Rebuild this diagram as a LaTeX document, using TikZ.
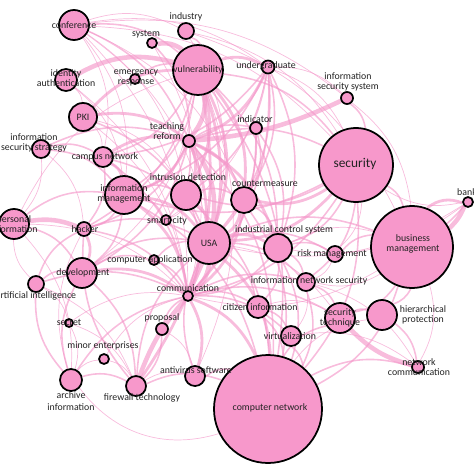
\documentclass[tikz,border=0pt]{standalone}
\usepackage{fontspec}
\setmainfont{Carlito}
\usepackage{xcolor}
\usetikzlibrary{backgrounds}
\definecolor{kwpink}{RGB}{247,152,203}
\definecolor{linkpink}{RGB}{244,152,202}
\definecolor{kwtext}{RGB}{35,35,35}
\tikzset{
	kw/.style={circle, draw=black, fill=kwpink, line width=1pt},
	kwlabel/.style={font=\fontsize{5.6}{5.9}\selectfont, text=kwtext, align=center},
	link/.style={draw=linkpink, opacity=0.65, bend left=22},
	thinlink/.style={link, line width=0.4pt},
	midlink/.style={link, line width=0.9pt},
	thicklink/.style={link, line width=1.6pt},
	heavylink/.style={link, line width=2.6pt}
}
\begin{document}
\begin{tikzpicture}[x=0.2mm, y=0.2mm]
	\tikzstyle{every node}+=[inner sep=0pt]
	\useasboundingbox (0,0) rectangle (474,-474);
	% keyword circles
	\node [kw, minimum size=6mm] (conf) at (74,-25) {};
	\node [kw, minimum size=3.2mm] (industry) at (186,-31) {};
	\node [kw, minimum size=2mm] (system) at (152,-43) {};
	\node [kw, minimum size=10mm] (vuln) at (198,-70) {};
	\node [kw, minimum size=4.4mm] (idauth) at (66,-80) {};
	\node [kw, minimum size=2mm] (emerg) at (135,-79) {};
	\node [kw, minimum size=5.6mm] (pki) at (83,-117) {};
	\node [kw, minimum size=2.4mm] (teach) at (189,-141) {};
	\node [kw, minimum size=3.6mm] (iss) at (41,-149) {};
	\node [kw, minimum size=4mm] (campus) at (103,-157) {};
	\node [kw, minimum size=2.6mm] (underg) at (268,-67) {};
	\node [kw, minimum size=2.4mm] (issys) at (347,-98) {};
	\node [kw, minimum size=2.4mm] (indic) at (256,-128) {};
	\node [kw, minimum size=14.8mm] (sec) at (356,-165) {};
	\node [kw, minimum size=5.2mm] (counter) at (244,-200) {};
	\node [kw, minimum size=6mm] (intrus) at (186,-195) {};
	\node [kw, minimum size=7.6mm] (infomgmt) at (124,-195) {};
	\node [kw, minimum size=2mm] (smart) at (166,-220) {};
	\node [kw, minimum size=6mm] (personal) at (14,-224) {};
	\node [kw, minimum size=2.8mm] (hacker) at (84,-229) {};
	\node [kw, minimum size=8.4mm] (usa) at (209,-243) {};
	\node [kw, minimum size=5.6mm] (ics) at (278,-248) {};
	\node [kw, minimum size=3.2mm] (risk) at (335,-254) {};
	\node [kw, minimum size=16.4mm] (bizmgmt) at (412,-247) {};
	\node [kw, minimum size=2mm] (bank) at (468,-202) {};
	\node [kw, minimum size=6mm] (devel) at (82,-273) {};
	\node [kw, minimum size=2mm] (compapp) at (154,-260) {};
	\node [kw, minimum size=3.2mm] (ai) at (36,-284) {};
	\node [kw, minimum size=2mm] (comm) at (188,-296) {};
	\node [kw, minimum size=3.6mm] (ins) at (306,-282) {};
	\node [kw, minimum size=4.4mm] (citizen) at (258,-307) {};
	\node [kw, minimum size=6mm] (sectech) at (340,-318) {};
	\node [kw, minimum size=6mm] (hier) at (382,-315) {};
	\node [kw, minimum size=1.6mm] (secret) at (69,-323) {};
	\node [kw, minimum size=2.4mm] (proposal) at (162,-329) {};
	\node [kw, minimum size=4mm] (virt) at (291,-336) {};
	\node [kw, minimum size=2mm] (minor) at (104,-359) {};
	\node [kw, minimum size=2.4mm] (netcomm) at (418,-367) {};
	\node [kw, minimum size=4mm] (antivirus) at (195,-376) {};
	\node [kw, minimum size=4.4mm] (archive) at (71,-380) {};
	\node [kw, minimum size=4mm] (firewall) at (136,-386) {};
	\node [kw, minimum size=21.6mm] (compnet) at (268,-409) {};
	% keyword texts
	\node [kwlabel] (conf-t) at (74,-25) {conference};
	\node [kwlabel] (industry-t) at (186,-17) {industry};
	\node [kwlabel] (system-t) at (146,-34) {system};
	\node [kwlabel] (vuln-t) at (198,-70) {vulnerability};
	\node [kwlabel] (idauth-t) at (66,-78) {identity\\authentication};
	\node [kwlabel] (emerg-t) at (136,-78) {emergency\\response};
	\node [kwlabel] (pki-t) at (83,-117) {PKI};
	\node [kwlabel] (teach-t) at (167,-131) {teaching\\reform};
	\node [kwlabel] (iss-t) at (34,-143) {information\\security strategy};
	\node [kwlabel] (campus-t) at (105,-157) {campus network};
	\node [kwlabel] (underg-t) at (266,-66) {undergraduate};
	\node [kwlabel] (issys-t) at (348,-82) {information\\security system};
	\node [kwlabel] (indic-t) at (255,-119) {indicator};
	\node [kwlabel, font=\fontsize{7.6}{8}\selectfont] (sec-t) at (355,-164) {security};
	\node [kwlabel] (counter-t) at (265,-183) {countermeasure};
	\node [kwlabel] (intrus-t) at (188,-177) {intrusion detection};
	\node [kwlabel] (infomgmt-t) at (124,-194) {information\\management};
	\node [kwlabel] (smart-t) at (167,-221) {smart city};
	\node [kwlabel] (personal-t) at (14,-224) {personal\\information};
	\node [kwlabel] (hacker-t) at (85,-229) {hacker};
	\node [kwlabel] (usa-t) at (209,-243) {USA};
	\node [kwlabel] (ics-t) at (284,-230) {industrial control system};
	\node [kwlabel] (risk-t) at (332,-254) {risk management};
	\node [kwlabel] (bizmgmt-t) at (413,-244) {business\\management};
	\node [kwlabel] (bank-t) at (467,-192) {bank};
	\node [kwlabel] (devel-t) at (83,-273) {development};
	\node [kwlabel] (compapp-t) at (150,-260) {computer application};
	\node [kwlabel] (ai-t) at (36,-296) {artificial intelligence};
	\node [kwlabel] (comm-t) at (188,-288) {communication};
	\node [kwlabel] (ins-t) at (309,-281) {information network security};
	\node [kwlabel] (citizen-t) at (260,-307) {citizen information};
	\node [kwlabel] (sectech-t) at (340,-318) {security\\technique};
	\node [kwlabel] (hier-t) at (423,-315) {hierarchical\\protection};
	\node [kwlabel] (secret-t) at (69,-322) {secret};
	\node [kwlabel] (proposal-t) at (162,-318) {proposal};
	\node [kwlabel] (virt-t) at (290,-336) {virtualization};
	\node [kwlabel] (minor-t) at (103,-346) {minor enterprises};
	\node [kwlabel] (netcomm-t) at (419,-367) {network\\communication};
	\node [kwlabel] (antivirus-t) at (196,-370) {antivirus software};
	\node [kwlabel, font=\fontsize{5.6}{6.8}\selectfont] (archive-t) at (71,-401) {archive\\information};
	\node [kwlabel] (firewall-t) at (142,-398) {firewall technology};
	\node [kwlabel] (compnet-t) at (270,-408) {computer network};
	% co-occurrence links
	\begin{pgfonlayer}{background}
	\draw [heavylink] (vuln) to (teach);
	\draw [heavylink] (system) to (vuln);
	\draw [midlink] (conf) to (vuln);
	\draw [heavylink] (idauth) to (vuln);
	\draw [thicklink] (pki) to (vuln);
	\draw [midlink] (industry) to (vuln);
	\draw [thicklink] (vuln) to (underg);
	\draw [thicklink] (vuln) to (intrus);
	\draw [thicklink] (vuln) to (counter);
	\draw [thicklink] (vuln) to (usa);
	\draw [midlink] (vuln) to (compnet);
	\draw [thicklink] (vuln) to (comm);
	\draw [midlink] (vuln) to (infomgmt);
	\draw [midlink] (vuln) to (campus);
	\draw [midlink] (emerg) to (vuln);
	\draw [midlink] (vuln) to (sec);
	\draw [midlink] (vuln) to (ics);
	\draw [midlink] (vuln) to (hacker);
	\draw [thicklink] (vuln) to (firewall);
	\draw [thinlink] (vuln) to (antivirus);
	\draw [thinlink] (vuln) to (devel);
	\draw [thinlink] (personal) to (vuln);
	\draw [thicklink] (underg) to (teach);
	\draw [midlink] (underg) to (infomgmt);
	\draw [midlink] (underg) to (usa);
	\draw [midlink] (underg) to (counter);
	\draw [midlink] (underg) to (campus);
	\draw [midlink] (underg) to (comm);
	\draw [thinlink] (conf) to (underg);
	\draw [midlink] (underg) to (ics);
	\draw [midlink] (underg) to (intrus);
	\draw [thinlink] (underg) to (sec);
	\draw [thinlink] (underg) to (smart);
	\draw [heavylink, bend left=10] (issys) to (teach);
	\draw [midlink] (issys) to (sec);
	\draw [thinlink] (conf) to (issys);
	\draw [thinlink] (underg) to (issys);
	\draw [thinlink] (issys) to (bizmgmt);
	\draw [midlink] (conf) to (teach);
	\draw [thinlink] (conf) to (infomgmt);
	\draw [thinlink] (conf) to (usa);
	\draw [thinlink] (conf) to (comm);
	\draw [thinlink] (conf) to (campus);
	\draw [thinlink] (conf) to (intrus);
	\draw [thinlink] (conf) to (counter);
	\draw [thinlink] (conf) to (sec);
	\draw [thinlink] (conf) to (industry);
	\draw [thinlink] (industry) to (sec);
	\draw [thinlink] (industry) to (bizmgmt);
	\draw [thinlink] (industry) to (usa);
	\draw [midlink] (system) to (teach);
	\draw [thinlink] (system) to (comm);
	\draw [thinlink] (idauth) to (pki);
	\draw [thinlink] (idauth) to (infomgmt);
	\draw [thinlink] (idauth) to (comm);
	\draw [thicklink] (pki) to (teach);
	\draw [midlink] (pki) to (usa);
	\draw [thinlink] (pki) to (campus);
	\draw [thinlink] (pki) to (intrus);
	\draw [thinlink] (pki) to (comm);
	\draw [heavylink] (teach) to (usa);
	\draw [thicklink] (teach) to (comm);
	\draw [thicklink] (teach) to (infomgmt);
	\draw [thicklink] (teach) to (intrus);
	\draw [thicklink] (teach) to (counter);
	\draw [midlink] (teach) to (indic);
	\draw [thicklink] (teach) to (ics);
	\draw [midlink] (teach) to (sec);
	\draw [midlink] (teach) to (compnet);
	\draw [midlink] (teach) to (hacker);
	\draw [midlink] (teach) to (devel);
	\draw [thicklink] (campus) to (teach);
	\draw [midlink] (teach) to (smart);
	\draw [midlink] (iss) to (teach);
	\draw [midlink] (indic) to (usa);
	\draw [midlink] (indic) to (counter);
	\draw [midlink] (indic) to (ics);
	\draw [midlink] (indic) to (comm);
	\draw [midlink] (iss) to (campus);
	\draw [midlink] (iss) to (infomgmt);
	\draw [thinlink] (iss) to (hacker);
	\draw [thinlink] (iss) to (personal);
	\draw [thicklink] (campus) to (infomgmt);
	\draw [midlink] (campus) to (usa);
	\draw [midlink] (campus) to (comm);
	\draw [midlink] (campus) to (hacker);
	\draw [thicklink] (sec) to (usa);
	\draw [thicklink] (sec) to (counter);
	\draw [midlink] (sec) to (ics);
	\draw [midlink] (sec) to (bizmgmt);
	\draw [thinlink] (bank) to (sec);
	\draw [midlink] (sec) to (comm);
	\draw [midlink] (sec) to (compnet);
	\draw [thinlink] (sec) to (risk);
	\draw [midlink] (sec) to (infomgmt);
	\draw [midlink] (sec) to (ins);
	\draw [midlink] (sec) to (intrus);
	\draw [thicklink] (counter) to (usa);
	\draw [midlink] (counter) to (ics);
	\draw [thicklink] (counter) to (comm);
	\draw [midlink] (intrus) to (counter);
	\draw [midlink] (counter) to (compnet);
	\draw [thicklink] (intrus) to (usa);
	\draw [midlink] (intrus) to (comm);
	\draw [midlink] (infomgmt) to (intrus);
	\draw [midlink] (intrus) to (compnet);
	\draw [thinlink] (intrus) to (smart);
	\draw [thicklink] (infomgmt) to (usa);
	\draw [thicklink] (infomgmt) to (comm);
	\draw [midlink] (infomgmt) to (hacker);
	\draw [midlink] (infomgmt) to (devel);
	\draw [midlink] (infomgmt) to (compnet);
	\draw [midlink] (infomgmt) to (smart);
	\draw [midlink] (personal) to (infomgmt);
	\draw [heavylink, bend left=15] (personal) to (hacker);
	\draw [midlink] (personal) to (devel);
	\draw [thinlink] (personal) to (comm);
	\draw [thinlink] (ai) to (personal);
	\draw [thinlink] (personal) to (archive);
	\draw [thicklink] (hacker) to (devel);
	\draw [midlink] (hacker) to (comm);
	\draw [midlink] (hacker) to (usa);
	\draw [midlink] (ai) to (hacker);
	\draw [thinlink] (archive) to (hacker);
	\draw [midlink] (firewall) to (hacker);
	\draw [heavylink] (usa) to (comm);
	\draw [thicklink] (usa) to (compnet);
	\draw [thicklink] (usa) to (ics);
	\draw [midlink] (usa) to (ins);
	\draw [midlink] (usa) to (risk);
	\draw [midlink] (usa) to (bizmgmt);
	\draw [midlink] (usa) to (citizen);
	\draw [thinlink] (usa) to (sectech);
	\draw [midlink] (compapp) to (usa);
	\draw [midlink] (devel) to (usa);
	\draw [midlink] (firewall) to (usa);
	\draw [midlink] (antivirus) to (usa);
	\draw [midlink] (ics) to (risk);
	\draw [midlink] (ics) to (ins);
	\draw [midlink] (ics) to (comm);
	\draw [midlink] (ics) to (compnet);
	\draw [thinlink] (ics) to (bizmgmt);
	\draw [midlink] (ics) to (citizen);
	\draw [midlink] (risk) to (bizmgmt);
	\draw [thinlink] (risk) to (ins);
	\draw [heavylink, bend left=12] (bank) to (bizmgmt);
	\draw [thicklink, bend left=30] (bizmgmt) to (bank);
	\draw [midlink, bend right=5] (bizmgmt) to (bank);
	\draw [midlink] (bizmgmt) to (compnet);
	\draw [midlink] (bizmgmt) to (sectech);
	\draw [midlink] (bizmgmt) to (hier);
	\draw [thinlink] (bizmgmt) to (netcomm);
	\draw [thinlink] (bizmgmt) to (comm);
	\draw [thinlink] (bizmgmt) to (ins);
	\draw [thinlink] (bank) to (usa);
	\draw [thinlink] (bank) to (ics);
	\draw [thicklink] (devel) to (comm);
	\draw [midlink] (ai) to (devel);
	\draw [midlink] (devel) to (compapp);
	\draw [midlink] (archive) to (devel);
	\draw [midlink] (devel) to (firewall);
	\draw [midlink] (compapp) to (comm);
	\draw [midlink] (ai) to (comm);
	\draw [midlink] (archive) to (ai);
	\draw [thinlink] (ai) to (secret);
	\draw [thinlink] (ai) to (firewall);
	\draw [heavylink, bend left=10] (firewall) to (comm);
	\draw [thicklink] (comm) to (antivirus);
	\draw [thicklink] (comm) to (compnet);
	\draw [midlink] (proposal) to (comm);
	\draw [midlink] (comm) to (citizen);
	\draw [midlink] (comm) to (ins);
	\draw [midlink] (archive) to (comm);
	\draw [thinlink] (minor) to (comm);
	\draw [midlink] (comm) to (virt);
	\draw [midlink] (comm) to (sectech);
	\draw [thinlink] (secret) to (comm);
	\draw [midlink] (ins) to (sectech);
	\draw [midlink] (ins) to (compnet);
	\draw [thinlink] (ins) to (virt);
	\draw [midlink] (citizen) to (compnet);
	\draw [midlink] (citizen) to (virt);
	\draw [thinlink] (citizen) to (sectech);
	\draw [heavylink, bend right=15] (sectech) to (netcomm);
	\draw [midlink] (compnet) to (sectech);
	\draw [midlink] (sectech) to (hier);
	\draw [midlink] (hier) to (netcomm);
	\draw [thinlink] (compnet) to (hier);
	\draw [midlink] (compnet) to (netcomm);
	\draw [thinlink] (virt) to (netcomm);
	\draw [thinlink] (ins) to (netcomm);
	\draw [midlink] (virt) to (compnet);
	\draw [thinlink] (secret) to (firewall);
	\draw [thinlink] (secret) to (archive);
	\draw [midlink] (proposal) to (firewall);
	\draw [thinlink] (proposal) to (antivirus);
	\draw [thinlink] (minor) to (firewall);
	\draw [thinlink] (archive) to (minor);
	\draw [midlink] (antivirus) to (compnet);
	\draw [thinlink] (firewall) to (antivirus);
	\draw [midlink] (archive) to (firewall);
	\draw [thinlink, bend right=35] (archive) to (compnet);
	\draw [midlink] (firewall) to (compnet);
	\end{pgfonlayer}
\end{tikzpicture}
\end{document}
